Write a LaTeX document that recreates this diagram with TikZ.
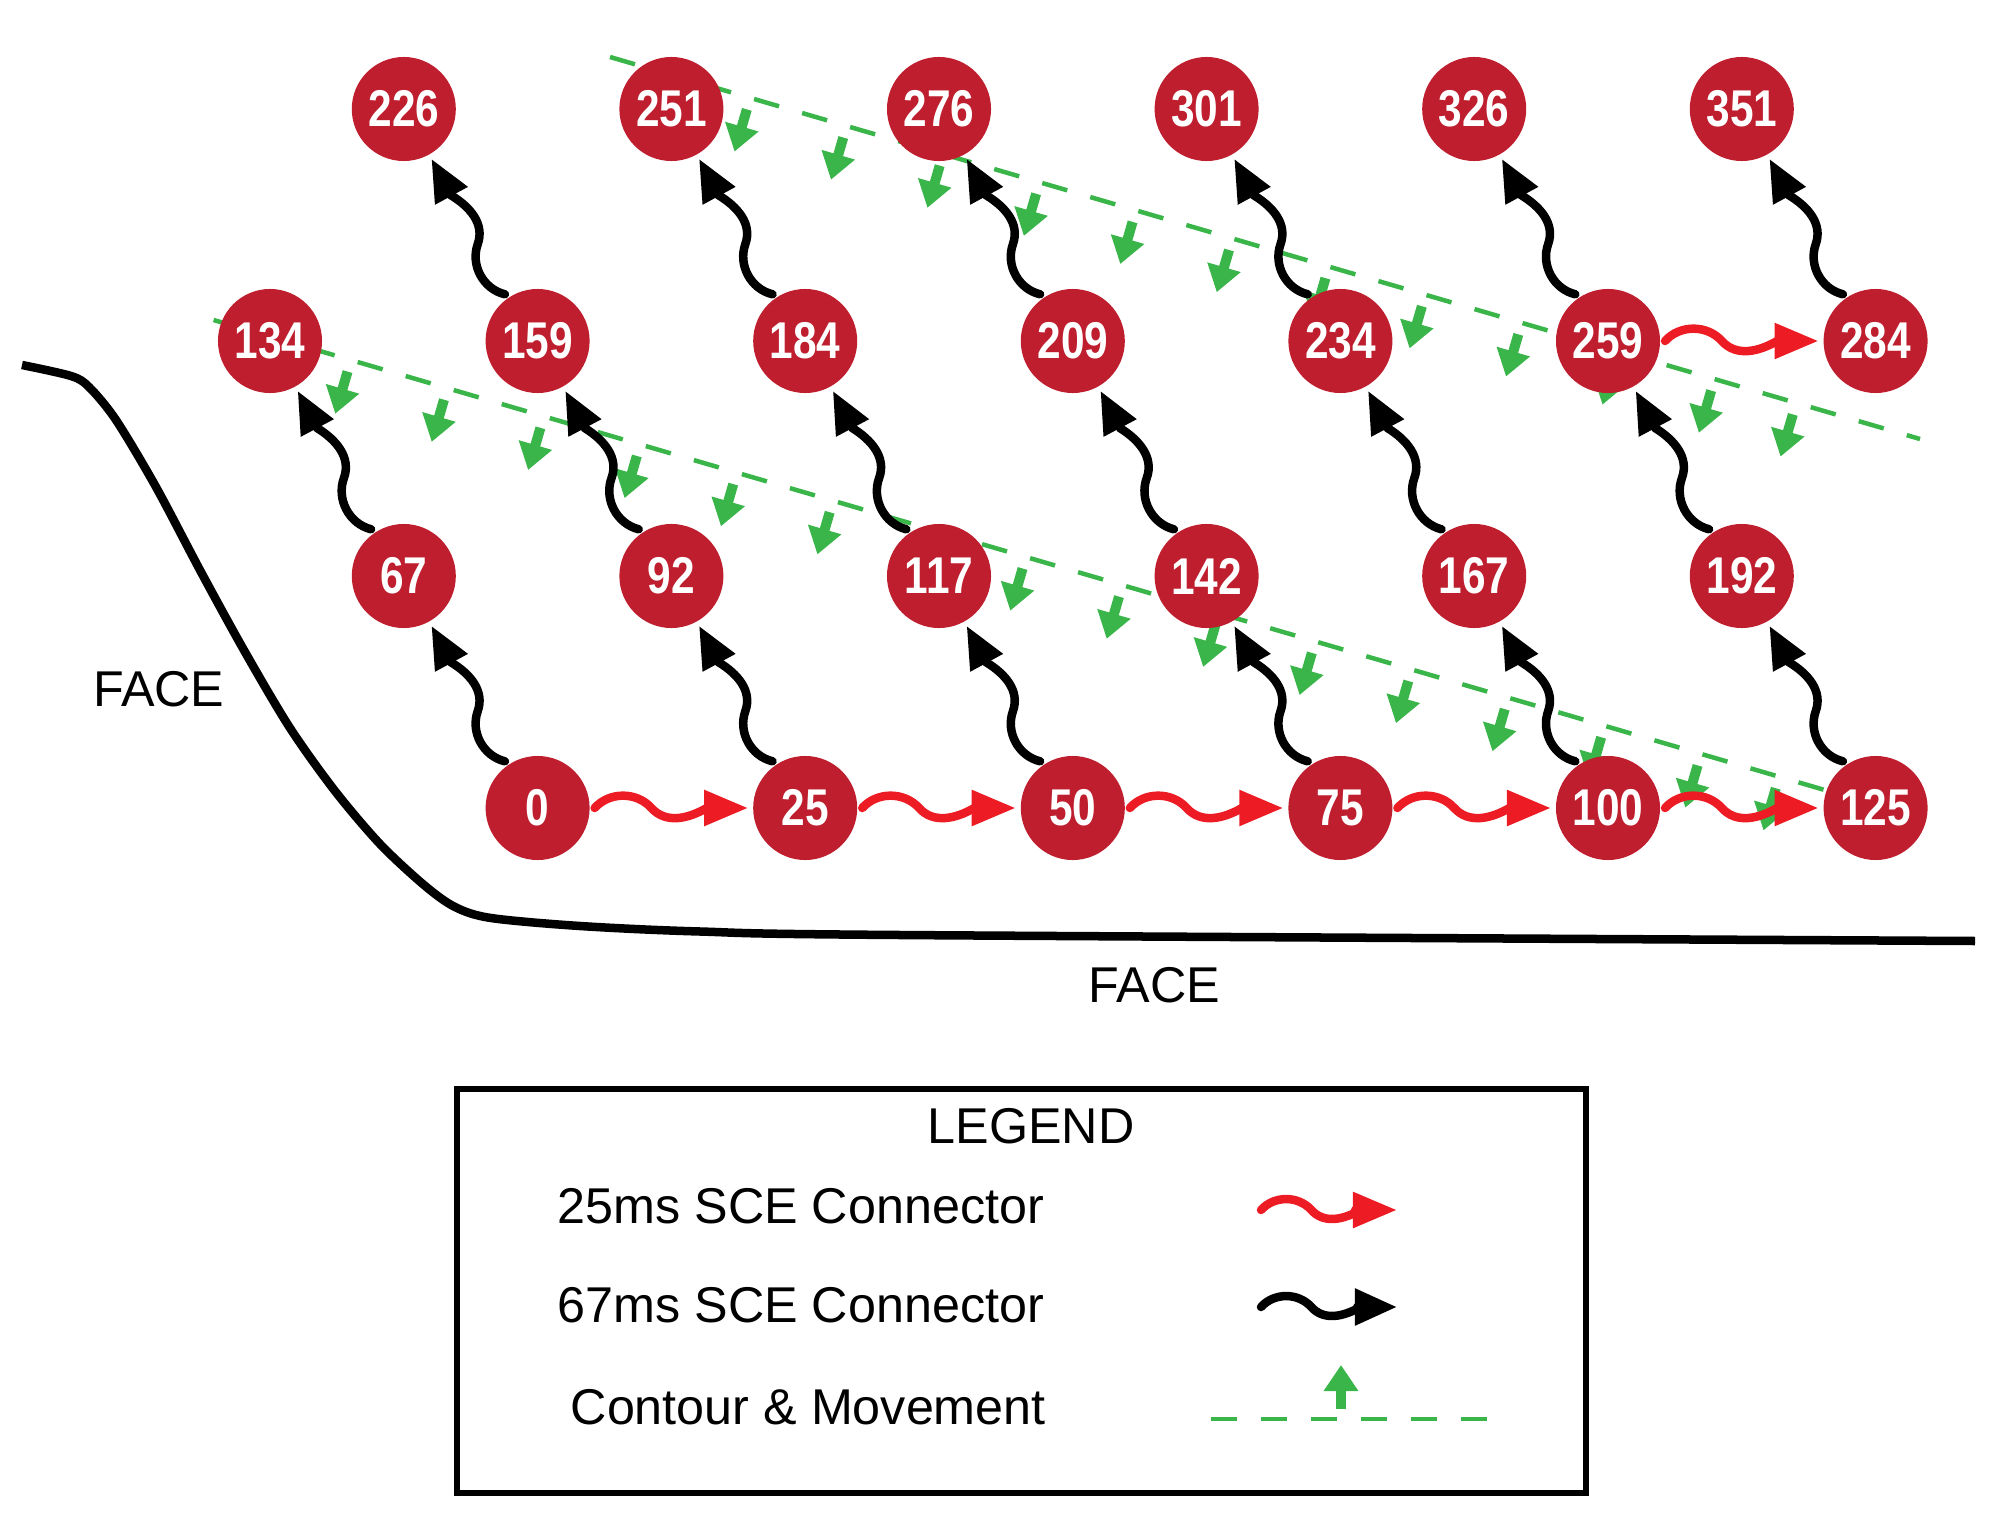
\documentclass[tikz,border=0pt]{standalone}
\usepackage{fontspec}
\setmainfont{Liberation Sans}
\newfontfamily\holefont[FakeStretch=0.82]{Liberation Sans}
\usepackage{xcolor}
\usepackage{tikz}
\usetikzlibrary{
    arrows.meta,
    calc
}
\definecolor{holered}{RGB}{190,30,45}
\definecolor{scered}{RGB}{237,28,36}
\definecolor{movegreen}{RGB}{57,181,74}
\tikzstyle{conn25} = [
    draw=scered,
    line width=0.085cm,
    line cap=round,
    -{Triangle[length=0.44cm, width=0.34cm]}
]
\tikzstyle{conn67} = [
    draw=black,
    line width=0.085cm,
    line cap=round,
    -{Triangle[length=0.42cm, width=0.35cm]}
]
% wavy surface connector: style, start, tip
\newcommand{\sce}[3]{%
    \draw[#1] (#2) to[out=48, in=132, relative] ($(#2)!0.37!(#3)$)
        to[out=-48, in=-150, relative] ($(#2)!0.73!(#3)$) -- (#3);%
}

\begin{document}
\begin{tikzpicture}[
    x=0.01cm, y=-0.01cm,
    hole/.style={
        circle,
        fill=holered,
        text=white,
        minimum size=1.04cm,
        inner sep=0pt,
        outer sep=0.05cm,
        font=\holefont\bfseries\fontsize{14.7pt}{16pt}\selectfont
    },
    lbl/.style={
        inner sep=0pt,
        font=\fontsize{14.3pt}{16pt}\selectfont
    },
    face/.style={
        line width=0.085cm,
        line join=round
    },
    contour/.style={
        draw=movegreen,
        line width=0.045cm,
        dash pattern=on 0.26cm off 0.24cm
    },
    move/.style={
        draw=movegreen,
        line width=0.1cm,
        -{Triangle[length=0.26cm, width=0.33cm]}
    },
    legendbox/.style={
        draw,
        line width=0.06cm,
        minimum width=11.28cm,
        minimum height=4.04cm
    }
]
\useasboundingbox (0,0) rectangle (2002,1530);

% free face
\draw[face] plot[smooth] coordinates {(22,365) (71,376) (89,387) (116,420)
    (156,487) (201,572) (245,652) (290,728) (335,791) (380,844) (424,885)
    (455,907) (491,918) (580,926) (700,931.5) (900,935) (1975,941)};
\node[lbl, anchor=west] (faceleft) at (92.4,689) {FACE};
\node[lbl] (facebottom) at (1154.6,984.7) {FACE};

% contours and movement
\coordinate (a1) at (213.6,320);
\coordinate (a2) at (1835,793);
\coordinate (b1) at (610,57);
\coordinate (b2) at (1920,439);
\draw[contour] (a1) -- (a2);
\draw[contour] (b1) -- (b2);
\foreach \k in {0,...,14} {
    \pgfmathsetmacro\dd{1.43+1.004*\k}
    \draw[move] ($(a1)!\dd cm!(a2) + (-3.4,11.5)$) -- ++(-12.3,42.2);
}
\draw[move] ($(a1)!16.30cm!(a2) + (-3.4,11.5)$) -- ++(-12.3,42.2);
\foreach \k in {0,...,10} {
    \pgfmathsetmacro\dd{1.46+1.004*\k}
    \draw[move] ($(b1)!\dd cm!(b2) + (-3.4,11.5)$) -- ++(-12.3,42.2);
}
\draw[move] ($(b1)!12.35cm!(b2) + (-3.4,11.5)$) -- ++(-12.3,42.2);

% holes
\foreach \k in {0,...,5} {
    \pgfmathtruncatemacro\v{25*\k}
    \node[hole] (n\v) at ({537.6+267.6*\k}, 808) {\v};
}
\foreach \k in {0,...,5} {
    \pgfmathtruncatemacro\v{67+25*\k}
    \node[hole] (n\v) at ({403.8+267.6*\k}, 576) {\v};
}
\foreach \k in {0,...,6} {
    \pgfmathtruncatemacro\v{134+25*\k}
    \node[hole] (n\v) at ({270+267.6*\k}, 341) {\v};
}
\foreach \k in {0,...,5} {
    \pgfmathtruncatemacro\v{226+25*\k}
    \node[hole] (n\v) at ({403.8+267.6*\k}, 109) {\v};
}

% 25ms connectors
\foreach \lo/\hi in {0/25, 25/50, 50/75, 75/100, 100/125, 259/284} {
    \sce{conn25}{n\lo.east}{n\hi.west}
}

% 67ms connectors
\foreach \lo in {0,25,50,75,100,125,67,92,117,142,167,192,159,184,209,234,259,284} {
    \pgfmathtruncatemacro\hi{\lo+67}
    \sce{conn67}{n\lo.125}{n\hi.-61}
}

% legend
\node[legendbox] (legend) at (1021.6,1290.8) {};
\node[lbl] (legendtitle) at (1031,1126) {LEGEND};
\node[lbl, anchor=west] (key25) at (557,1206) {25ms SCE Connector};
\node[lbl, anchor=west] (key67) at (557,1305) {67ms SCE Connector};
\node[lbl, anchor=west] (keymove) at (570,1407.5) {Contour \& Movement};
\coordinate (r1) at (1261,1210);
\coordinate (r2) at (1397,1210);
\sce{conn25}{r1}{r2}
\coordinate (k1) at (1261,1307);
\coordinate (k2) at (1397,1307);
\sce{conn67}{k1}{k2}
\coordinate (g1) at (1211,1419);
\coordinate (g2) at (1487,1419);
\draw[contour] (g1) -- (g2);
\coordinate (m1) at (1341,1409);
\coordinate (m2) at (1341,1365);
\draw[move] (m1) -- (m2);

\end{tikzpicture}
\end{document}
